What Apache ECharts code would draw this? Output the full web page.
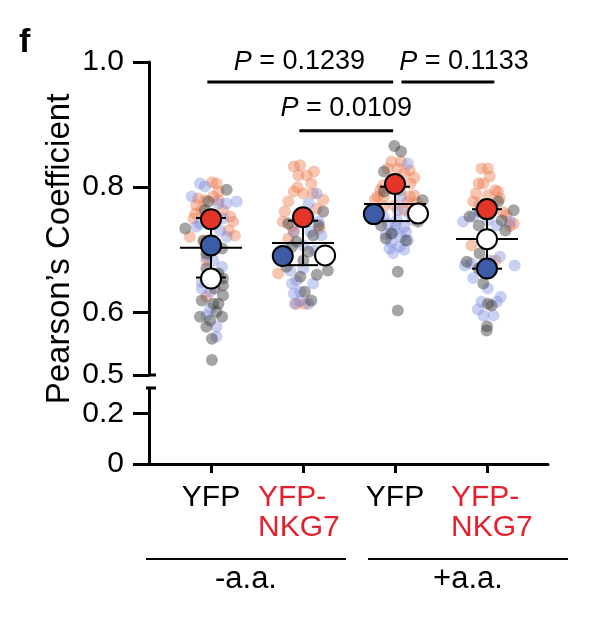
<!DOCTYPE html>
<html><head><meta charset="utf-8">
<script src="https://cdn.jsdelivr.net/npm/echarts@6/dist/echarts.min.js"></script>
<style>html,body{margin:0;padding:0;background:#fff}#c{width:614px;height:618px}</style>
</head><body><div id="c"></div>
<script>
// ---- data ----
const categories = ['YFP', 'YFP-\nNKG7', 'YFP', 'YFP-\nNKG7'];
const categoryIsRed = [false, true, false, true];
const groupNames = ['-a.a.', '+a.a.'];
const groupSpanFrom = [0.293, 2.707];
const groupSpanTo = [2.467, 4.880];
const upperTicks = [0.5, 0.6, 0.8, 1.0];
const lowerTicks = [0, 0.2];

// individual cells: [category, jitter, Pearson value]
const redDots = [
  [1,0.01,0.808],[1,0.06,0.806],[1,0.08,0.793],[1,0.025,0.785],[1,-0.14,0.782],[1,-0.065,0.779],[1,0.08,0.779],[1,-0.16,0.771],[1,-0.10,0.763],[1,0.13,0.763],[1,-0.17,0.758],[1,0.21,0.753],[1,-0.19,0.750],[1,0.24,0.745],[1,0.19,0.731],[1,0.26,0.723],[1,-0.23,0.721],[1,-0.08,0.713],[1,-0.05,0.683],[1,-0.05,0.625],
  [2,-0.10,0.833],[2,-0.03,0.835],[2,-0.05,0.819],[2,0.04,0.819],[2,0.09,0.806],[2,0.11,0.790],[2,-0.10,0.793],[2,0.004,0.790],[2,-0.16,0.777],[2,0.15,0.766],[2,-0.20,0.761],[2,0.06,0.750],[2,-0.12,0.737],[2,0.18,0.734],[2,-0.10,0.729],[2,-0.16,0.718],[2,-0.27,0.662],[2,-0.07,0.614],[2,0.02,0.614],
  [2,0.12,0.825],[2,-0.06,0.800],[2,0.22,0.780],[2,-0.22,0.745],
  [3,-0.04,0.841],[3,0.065,0.841],[3,-0.08,0.830],[3,0.16,0.827],[3,0.10,0.822],[3,-0.007,0.811],[3,0.17,0.806],[3,-0.13,0.803],[3,-0.19,0.785],[3,-0.12,0.785],[3,0.16,0.785],[3,0.21,0.787],[3,-0.007,0.771],[3,-0.12,0.769],[3,0.10,0.763],
  [3,0.03,0.830],[3,0.21,0.815],[3,-0.16,0.795],[3,0.24,0.775],[3,-0.22,0.780],[3,0.06,0.795],[3,0.13,0.775],
  [4,-0.06,0.830],[4,0.01,0.830],[4,0.03,0.817],[4,-0.09,0.806],[4,-0.04,0.806],[4,0.09,0.795],[4,0.12,0.793],[4,0.01,0.787],[4,0.14,0.782],[4,-0.15,0.777],[4,-0.08,0.774],[4,0.21,0.755],[4,0.29,0.742],[4,0.25,0.738],[4,-0.17,0.707],[4,0.09,0.683],
  [4,0.05,0.765],[4,-0.12,0.790],[4,0.18,0.760]
];
const blueDots = [
  [1,-0.12,0.806],[1,-0.065,0.801],[1,-0.21,0.785],[1,0.08,0.774],[1,0.17,0.774],[1,0.28,0.777],[1,0.13,0.750],[1,-0.12,0.742],[1,-0.16,0.737],[1,0.10,0.731],[1,0.17,0.721],[1,-0.05,0.689],[1,0.025,0.683],[1,0.12,0.673],[1,-0.10,0.648],[1,-0.10,0.638],[1,-0.01,0.633],[1,-0.01,0.606],[1,-0.05,0.595],[1,0.06,0.577],[1,0.06,0.561],
  [2,0.15,0.790],[2,0.06,0.774],[2,0.17,0.745],[2,-0.10,0.729],[2,0.08,0.729],[2,0.20,0.723],[2,0.004,0.707],[2,0.13,0.699],[2,-0.14,0.667],[2,0.004,0.670],[2,-0.07,0.651],[2,-0.12,0.646],[2,0.11,0.646],[2,-0.03,0.633],[2,-0.10,0.630],[2,-0.09,0.614],[2,0.06,0.614],
  [2,-0.18,0.700],[2,0.22,0.690],[2,-0.03,0.618],
  [3,0.14,0.838],[3,0.065,0.785],[3,0.03,0.763],[3,0.16,0.758],[3,-0.08,0.742],[3,0.01,0.739],[3,0.10,0.737],[3,-0.007,0.731],[3,-0.03,0.726],[3,0.065,0.721],[3,0.14,0.715],[3,-0.06,0.702],[3,0.05,0.705],
  [3,-0.12,0.752],[3,0.19,0.748],[3,-0.04,0.712],[3,0.10,0.700],[3,-0.10,0.725],[3,0.02,0.748],[3,0.12,0.728],[3,-0.02,0.695],
  [4,-0.26,0.745],[4,-0.15,0.753],[4,0.01,0.747],[4,0.11,0.739],[4,0.25,0.745],[4,-0.24,0.675],[4,-0.17,0.678],[4,0.03,0.683],[4,0.14,0.689],[4,0.30,0.675],[4,0.01,0.638],[4,-0.06,0.617],[4,0.11,0.617],[4,-0.04,0.595],[4,0.07,0.595],
  [4,-0.10,0.605],[4,0.15,0.625],[4,-0.15,0.655]
];
const greyDots = [
  [1,0.17,0.796],[1,-0.03,0.777],[1,-0.065,0.763],[1,-0.28,0.734],[1,-0.08,0.715],[1,-0.01,0.710],[1,0.12,0.702],[1,-0.05,0.694],[1,-0.05,0.670],[1,0.08,0.662],[1,0.13,0.654],[1,0.13,0.643],[1,0.04,0.638],[1,0.13,0.627],[1,-0.10,0.619],[1,0.08,0.614],[1,0.025,0.614],[1,0.06,0.601],[1,-0.12,0.593],[1,0.12,0.593],[1,-0.01,0.587],[1,-0.05,0.577],[1,0.01,0.558],[1,0.01,0.524],
  [2,0.22,0.761],[2,-0.16,0.742],[2,0.17,0.739],[2,0.11,0.723],[2,-0.07,0.713],[2,0.06,0.697],[2,0.004,0.683],[2,-0.18,0.673],[2,0.27,0.667],[2,-0.03,0.657],[2,0.02,0.633],[2,0.09,0.619],
  [2,-0.12,0.705],[2,0.15,0.660],
  [3,-0.007,0.866],[3,0.065,0.857],[3,-0.12,0.825],[3,-0.12,0.793],[3,0.30,0.779],[3,0.25,0.745],[3,-0.15,0.739],[3,-0.04,0.726],[3,-0.10,0.718],[3,0.12,0.715],[3,0.03,0.665],[3,0.03,0.603],
  [4,0.12,0.777],[4,0.29,0.763],[4,-0.08,0.761],[4,-0.19,0.753],[4,-0.09,0.739],[4,0.16,0.747],[4,0.20,0.731],[4,-0.08,0.694],[4,-0.22,0.681],[4,-0.09,0.670],[4,-0.04,0.646],[4,0.01,0.614],[4,0.05,0.611],[4,-0.004,0.571],
  [4,0.0,0.578]
];

// replicate means (big circles) and their horizontal dodge
const redMeans = [0.749, 0.752, 0.805, 0.765];
const blueMeans = [0.707, 0.690, 0.757, 0.670];
const whiteMeans = [0.654, 0.691, 0.758, 0.717];
const redDodge = [0, 0, 0, 0];
const blueDodge = [0, -0.22, -0.23, 0];
const whiteDodge = [0, 0.24, 0.25, 0];

// significance brackets
const pLabels = ['0.1239', '0.1133', '0.0109'];
const pFromX = [0.96, 3.07, 1.96];
const pToX = [2.98, 4.08, 2.98];
const pLineY = [0.968, 0.968, 0.890];
const pTextX = [1.96, 3.75, 2.47];
const pTextY = [1.0, 1.0, 0.926];

// ---- chart ----
const FONT = '"Liberation Sans", Arial, Helvetica, sans-serif';
const XMIN = 0.326, XMAX = 4.663;
const chart = echarts.init(document.getElementById('c'), null, {renderer: 'canvas'});

function meanSd(i) {
  const v = [redMeans[i], blueMeans[i], whiteMeans[i]];
  const m = (v[0] + v[1] + v[2]) / 3;
  const sd = Math.sqrt(v.reduce((s, x) => s + (x - m) * (x - m), 0) / (v.length - 1));
  return [m, sd];
}
const summaryData = categories.map((c, i) => { const [m, sd] = meanSd(i); return [i + 1, m, m - sd, m + sd]; });

const dotSeries = (arr, color) => ({
  type: 'scatter', xAxisIndex: 0, yAxisIndex: 0, symbolSize: 12, z: 2,
  itemStyle: { color: color, borderWidth: 0 },
  data: arr.map(d => [d[0] + d[1], d[2]])
});
const meanSeries = (vals, dodge, color) => ({
  type: 'scatter', xAxisIndex: 0, yAxisIndex: 0, symbolSize: 20, z: 5,
  itemStyle: { color: color, borderColor: '#000', borderWidth: 2, opacity: 1 },
  data: vals.map((v, i) => [i + 1 + dodge[i], v])
});
const lineEl = (x1, y1, x2, y2, w) => ({ type: 'line', shape: { x1, y1, x2, y2 }, style: { stroke: '#000', lineWidth: w || 2 } });

const axisLineStyle = { show: true, onZero: false, lineStyle: { color: '#000', width: 3 } };
const catTok = { fontSize: 30, fontFamily: FONT, lineHeight: 30, align: 'left' };

chart.setOption({
  animation: false,
  backgroundColor: '#fff',
  grid: [
    { left: 149, right: 66, top: 62, height: 313 },
    { left: 149, right: 66, top: 388, bottom: 154 }
  ],
  xAxis: [
    { gridIndex: 0, type: 'value', min: XMIN, max: XMAX, show: false },
    { gridIndex: 1, type: 'value', min: XMIN, max: XMAX,
      axisLine: axisLineStyle,
      axisTick: { show: true, customValues: [1, 2, 3, 4], length: 9, lineStyle: { color: '#000', width: 3 } },
      axisLabel: { show: true, customValues: [1, 2, 3, 4], margin: 19,
        formatter: v => { const i = Math.round(v) - 1;
          const tag = categoryIsRed[i] ? (i === 3 ? 's' : 'r') : 'k';
          return categories[i].split('\n').map(s => '{' + tag + '|' + s + '}').join('\n'); },
        rich: {
          k: Object.assign({ color: '#000' }, catTok, { align: 'center' }),
          r: Object.assign({ color: '#e4202e', width: 90 }, catTok),
          s: Object.assign({ color: '#e4202e', width: 90, padding: [0, 0, 0, 18] }, catTok)
        } },
      splitLine: { show: false } }
  ],
  yAxis: [
    { gridIndex: 0, type: 'value', min: 0.5, max: 1.0,
      axisLine: axisLineStyle,
      axisTick: { show: true, customValues: upperTicks, length: 16, lineStyle: { color: '#000', width: 3 } },
      axisLabel: { show: true, customValues: upperTicks, formatter: v => v.toFixed(1), margin: 25,
        color: '#000', fontSize: 30, fontFamily: FONT },
      splitLine: { show: false } },
    { gridIndex: 1, type: 'value', min: 0, max: 0.3,
      axisLine: axisLineStyle,
      axisTick: { show: true, customValues: lowerTicks, length: 16, lineStyle: { color: '#000', width: 3 } },
      axisLabel: { show: true, customValues: lowerTicks, formatter: v => v === 0 ? '0' : v.toFixed(1), margin: 25,
        color: '#000', fontSize: 30, fontFamily: FONT },
      splitLine: { show: false } }
  ],
  series: [
    dotSeries(redDots, 'rgba(236,112,64,0.5)'),
    dotSeries(blueDots, 'rgba(108,124,216,0.45)'),
    dotSeries(greyDots, 'rgba(60,60,60,0.58)'),
    { type: 'custom', xAxisIndex: 0, yAxisIndex: 0, z: 4, data: summaryData,
      encode: { x: 0, y: [1, 2, 3] },
      renderItem: (p, api) => {
        const x = api.value(0);
        const pm = api.coord([x, api.value(1)]), pl = api.coord([x, api.value(2)]), ph = api.coord([x, api.value(3)]);
        return { type: 'group', children: [
          lineEl(pm[0] - 31, pm[1], pm[0] + 31, pm[1]),
          lineEl(pl[0], pl[1], ph[0], ph[1]),
          lineEl(pl[0] - 15, pl[1], pl[0] + 15, pl[1]),
          lineEl(ph[0] - 15, ph[1], ph[0] + 15, ph[1])
        ] };
      } },
    meanSeries(redMeans, redDodge, '#e5352a'),
    meanSeries(blueMeans, blueDodge, '#3d5ca8'),
    meanSeries(whiteMeans, whiteDodge, '#ffffff'),
    // significance brackets
    { type: 'custom', xAxisIndex: 0, yAxisIndex: 0, z: 6, clip: false,
      data: pLabels.map((l, i) => [pFromX[i], pToX[i], pLineY[i], pTextX[i], pTextY[i]]),
      renderItem: (p, api) => {
        const a = api.coord([api.value(0), api.value(2)]), b = api.coord([api.value(1), api.value(2)]);
        const t = api.coord([api.value(3), api.value(4)]);
        return { type: 'group', children: [
          lineEl(a[0], a[1], b[0], b[1], 3),
          { type: 'text', x: t[0], y: t[1], style: {
              text: '{i|P} = ' + pLabels[p.dataIndex], align: 'center', verticalAlign: 'middle',
              fill: '#000', fontSize: 27, fontFamily: FONT,
              rich: { i: { fontStyle: 'italic', fontSize: 27, fontFamily: FONT, fill: '#000' } } } }
        ] };
      } },
    // axis break cap on the upper axis
    { type: 'custom', xAxisIndex: 0, yAxisIndex: 0, z: 6, clip: false, data: [[XMIN, 0.5]],
      renderItem: (p, api) => { const c = api.coord([api.value(0), api.value(1)]);
        return lineEl(c[0], c[1], c[0] + 7, c[1], 3); } },
    // axis break cap on the lower axis
    { type: 'custom', xAxisIndex: 1, yAxisIndex: 1, z: 6, clip: false, data: [[XMIN, 0.3]],
      renderItem: (p, api) => { const c = api.coord([api.value(0), api.value(1)]);
        return lineEl(c[0] - 3, c[1], c[0] + 7, c[1], 3); } },
    // group labels under the x axis
    { type: 'custom', xAxisIndex: 1, yAxisIndex: 1, z: 6, clip: false,
      data: groupNames.map((g, i) => [groupSpanFrom[i], groupSpanTo[i]]),
      renderItem: (p, api) => {
        const a = api.coord([api.value(0), 0]), b = api.coord([api.value(1), 0]);
        const y = a[1] + 95;
        return { type: 'group', children: [
          lineEl(a[0], y, b[0], y, 2),
          { type: 'text', x: (a[0] + b[0]) / 2, y: y + 20, style: {
              text: groupNames[p.dataIndex], align: 'center', verticalAlign: 'middle',
              fill: '#000', fontSize: 31, fontFamily: FONT } }
        ] };
      } }
  ],
  graphic: [
    { type: 'text', x: 19, y: 43, style: { text: 'f', fontSize: 34, fontWeight: 'bold', fontFamily: FONT, fill: '#000', verticalAlign: 'middle' } },
    { type: 'text', x: 60, y: 249, rotation: Math.PI / 2, style: { text: 'Pearson\u2019s Coefficient', fontSize: 33, fontFamily: FONT, fill: '#000', align: 'center', verticalAlign: 'middle' } }
  ]
});
</script>
</body></html>
